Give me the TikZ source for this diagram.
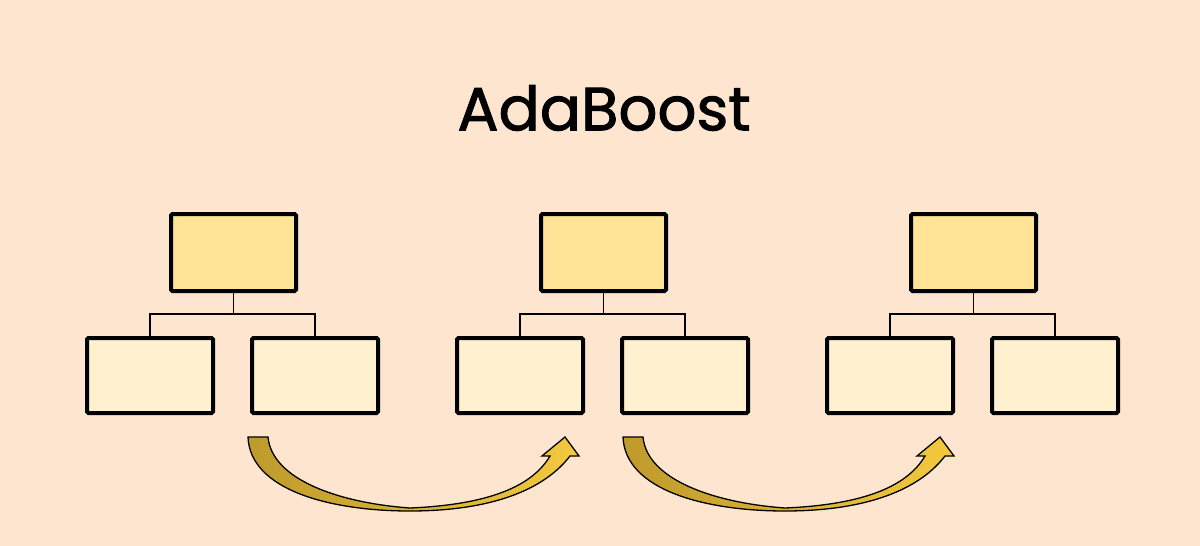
\documentclass[tikz,border=0pt]{standalone}
\usepackage{fontspec}
\setmainfont{Poppins}
\newfontfamily\titlefont{Poppins}[FakeBold=1.6]
\definecolor{bg}{HTML}{FDE5CF}
\definecolor{topc}{HTML}{FFE498}
\definecolor{botc}{HTML}{FFF0D0}
\definecolor{arrA}{HTML}{BE9A2C}
\definecolor{arrB}{HTML}{F4C93E}
\begin{document}
\begin{tikzpicture}[x=1pt,y=-1pt,
  topbox/.style={draw=black,line width=4pt,fill=topc,rounded corners=1.5pt,minimum width=125pt,minimum height=77pt,inner sep=0pt},
  botbox/.style={draw=black,line width=4pt,fill=botc,rounded corners=1.5pt,minimum width=126pt,minimum height=75pt,inner sep=0pt},
  link/.style={draw=black,line width=1.6pt},
  arr/.style={draw=black,line width=1.3pt,left color=arrA,right color=arrB}]
\fill[bg] (0,0) rectangle (1200,546);
\useasboundingbox (0,0) rectangle (1200,546);
\node[font=\titlefont\fontsize{61}{70}\selectfont] (title) at (604,108) {AdaBoost};
\foreach \i/\d in {1/0,2/370,3/740}{
  \node[topbox] (t\i) at (233.5+\d,252.5) {};
  \node[botbox] (l\i) at (150+\d,375.5) {};
  \node[botbox] (r\i) at (315+\d,375.5) {};
  \coordinate (j\i) at (233.5+\d,314);
  \draw[link] (t\i.south) -- (j\i);
  \draw[link] (l\i.north) |- (j\i) -| (r\i.north);
}
\foreach \d in {0,375}{
\begin{scope}[xshift=\d]
\path[arr] (248,437) -- (268,437) .. controls (272,480) and (340,503) .. (410,508)
  .. controls (480,505) and (530,490) .. (550,456) -- (542,456) -- (565,437) -- (579,456) -- (570,456)
  .. controls (540,495) and (480,511) .. (410,511) .. controls (330,511) and (250,490) .. (248,437) -- cycle;
\end{scope}}
\end{tikzpicture}
\end{document}
